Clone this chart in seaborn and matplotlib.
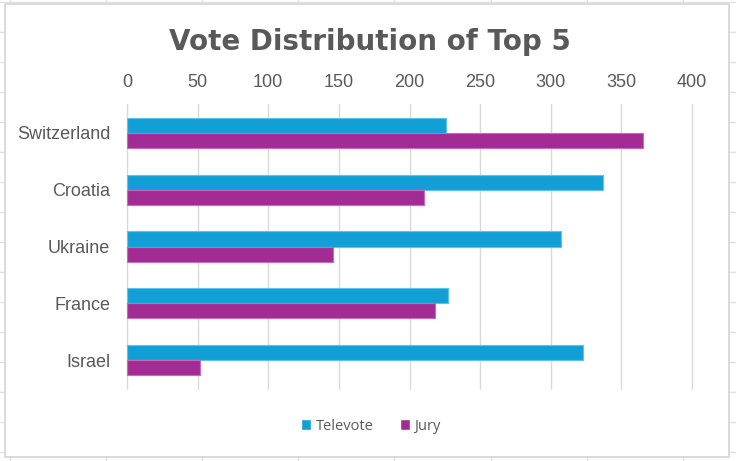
import matplotlib
matplotlib.use("Agg")
import matplotlib.pyplot as plt
from matplotlib.lines import Line2D
from matplotlib.patches import Rectangle
import seaborn as sns
import pandas as pd

countries = ["Switzerland", "Croatia", "Ukraine", "France", "Israel"]
televote = [226, 337, 307, 227, 323]
jury = [365, 210, 146, 218, 52]
series = ["Televote", "Jury"]
colors = ["#129FD6", "#A22C93"]
edge_colors = ["#5CC3EA", "#C86ABC"]
x_ticks = [0, 50, 100, 150, 200, 250, 300, 350, 400]

df = pd.DataFrame({
    "Country": countries * 2,
    "Votes": televote + jury,
    "Type": [series[0]] * len(countries) + [series[1]] * len(countries),
})

sns.set_theme(style="white")
plt.rcParams["font.family"] = ["Liberation Sans", "DejaVu Sans"]

W, H = 736, 461
fig = plt.figure(figsize=(W / 100, H / 100), dpi=100)
fig.patch.set_facecolor("white")

# spreadsheet background lines
for xv in [10, 106, 202, 298, 394, 491, 587, 683]:
    fig.add_artist(Line2D([xv / W, xv / W], [0, 1], transform=fig.transFigure,
                          color="#E1E1E1", lw=1, zorder=0))
for yv in range(2, 461, 30):
    fig.add_artist(Line2D([0, 1], [1 - yv / H, 1 - yv / H], transform=fig.transFigure,
                          color="#E1E1E1", lw=1, zorder=0))
fig.add_artist(Rectangle((5 / W, 1 - 457 / H), 724 / W, 453 / H, transform=fig.transFigure,
                         facecolor="white", edgecolor="#D4D4D4", lw=1.2, zorder=1))

ax_top, ax_bot = 104.5, 388.5
ax = fig.add_axes([127 / W, 1 - ax_bot / H, 565 / W, (ax_bot - ax_top) / H])
ax.set_zorder(2)
ax.patch.set_alpha(0)

sns.barplot(data=df, y="Country", x="Votes", hue="Type", orient="h",
            palette=colors, width=0.53, ax=ax, legend=False, saturation=1)

for i, cont in enumerate(ax.containers):
    for bar in cont:
        bar.set_edgecolor(edge_colors[i])
        bar.set_linewidth(0.8)

ax.set_xlim(0, 400)
ax.set_ylim(4.5, -0.5)
ax.set_xticks(x_ticks)
ax.xaxis.tick_top()
ax.tick_params(axis="x", length=0, pad=10, labelsize=13, labelcolor="#595959")
ax.tick_params(axis="y", length=0, pad=12, labelsize=13, labelcolor="#595959")
ax.grid(axis="x", color="#D9D9D9", lw=1)
for gl in ax.xaxis.get_gridlines():
    gl.set_clip_on(False)
ax.set_axisbelow(True)
for s in ax.spines.values():
    s.set_visible(False)
ax.set_xlabel("")
ax.set_ylabel("")

fig.text(370 / W, 1 - 42 / H, "Vote Distribution of Top 5", ha="center", va="center",
         fontsize=20, fontweight="heavy", color="#595959", zorder=3,
         family=["DejaVu Sans"])

handles = [Rectangle((0, 0), 1, 1, facecolor=c) for c in colors]
leg = fig.legend(handles, series, loc="center", bbox_to_anchor=(371 / W, 1 - 426 / H),
                 ncol=2, frameon=False, handlelength=0.7, handleheight=0.7,
                 handletextpad=0.3, columnspacing=1.8,
                 prop={"family": ["Open Sans", "DejaVu Sans"], "size": 10.5})
for t in leg.get_texts():
    t.set_color("#595959")

fig.savefig("out.png", dpi=100)
